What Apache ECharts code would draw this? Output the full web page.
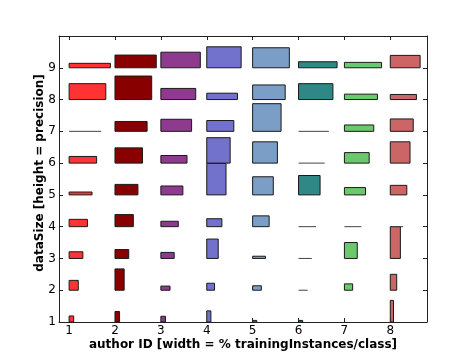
<!DOCTYPE html>
<html>
<head>
<meta charset="utf-8">
<script src="https://cdn.jsdelivr.net/npm/echarts@6/dist/echarts.min.js"></script>
<style>html,body{margin:0;padding:0;background:#fff}#c{width:474px;height:358px}</style>
</head>
<body>
<div id="c"></div>
<script>
// author IDs (x) and data sizes (y)
var authors = [1, 2, 3, 4, 5, 6, 7, 8];
var dataSizes = [1, 2, 3, 4, 5, 6, 7, 8, 9];
var xTickLabels = ['1', '2', '3', '4', '5', '6', '7', '8'];
var yTickLabels = ['1', '2', '3', '4', '5', '6', '7', '8', '9'];
var authorColors = ['#ff3333', '#880000', '#8e3a8e', '#7272cc', '#7b9ec6', '#2f8886', '#6cc86c', '#cc6666'];

// width = % training instances / class, per author, for dataSize 1..9
var width1 = [0.10, 0.20, 0.30, 0.40, 0.50, 0.60, 0.70, 0.80, 0.90];
var width2 = [0.10, 0.20, 0.30, 0.40, 0.50, 0.60, 0.70, 0.80, 0.90];
var width3 = [0.10, 0.20, 0.29, 0.38, 0.48, 0.57, 0.67, 0.76, 0.86];
var width4 = [0.09, 0.17, 0.25, 0.33, 0.42, 0.51, 0.59, 0.67, 0.75];
var width5 = [0.09, 0.19, 0.28, 0.36, 0.45, 0.54, 0.62, 0.71, 0.80];
var width6 = [0.09, 0.20, 0.29, 0.38, 0.47, 0.57, 0.66, 0.75, 0.84];
var width7 = [0.09, 0.18, 0.28, 0.37, 0.46, 0.54, 0.64, 0.72, 0.81];
var width8 = [0.07, 0.14, 0.22, 0.28, 0.36, 0.43, 0.50, 0.57, 0.65];

// height = precision, per author, for dataSize 1..9
var prec1 = [0.19, 0.31, 0.21, 0.23, 0.09, 0.21, 0.00, 0.50, 0.14];
var prec2 = [0.33, 0.67, 0.28, 0.38, 0.33, 0.48, 0.31, 0.74, 0.40];
var prec3 = [0.18, 0.13, 0.19, 0.17, 0.28, 0.24, 0.38, 0.35, 0.49];
var prec4 = [0.35, 0.22, 0.61, 0.25, 0.99, 0.80, 0.34, 0.20, 0.66];
var prec5 = [0.05, 0.14, 0.07, 0.34, 0.57, 0.67, 0.87, 0.46, 0.63];
var prec6 = [0.05, 0.00, 0.00, 0.00, 0.61, 0.00, 0.00, 0.50, 0.19];
var prec7 = [0.00, 0.20, 0.50, 0.00, 0.23, 0.33, 0.20, 0.17, 0.17];
var prec8 = [0.68, 0.50, 1.00, 0.00, 0.30, 0.67, 0.39, 0.16, 0.39];

var widths = [width1, width2, width3, width4, width5, width6, width7, width8];
var precs = [prec1, prec2, prec3, prec4, prec5, prec6, prec7, prec8];

var data = [];
authors.forEach(function (a, i) {
  dataSizes.forEach(function (d, j) {
    if (i === 6 && j === 0) return; // not visible in reference
    data.push([a, d, widths[i][j], precs[i][j], i]);
  });
});

var chart = echarts.init(document.getElementById('c'), null, {renderer: 'canvas'});
var font = 'DejaVu Sans';
var axisLineStyle = {color: '#222', width: 1};
var tickStyle = {show: true, inside: true, length: 4, lineStyle: {color: '#222'}};

chart.setOption({
  animation: false,
  backgroundColor: '#fff',
  grid: {left: 59, right: 47, top: 36, bottom: 36, containLabel: false},
  xAxis: [{
    type: 'value', min: 0.78, max: 8.8, position: 'bottom',
    name: 'author ID [width = % trainingInstances/class]',
    nameLocation: 'middle', nameGap: 17, nameMoveOverlap: false,
    nameTextStyle: {fontFamily: font, fontWeight: 'bold', fontSize: 12, color: '#000'},
    axisLine: {show: true, lineStyle: axisLineStyle},
    axisTick: Object.assign({customValues: authors}, tickStyle),
    axisLabel: {customValues: authors, formatter: function (v) { return xTickLabels[Math.round(v) - 1]; },
      fontFamily: font, fontSize: 12, color: '#000', margin: 3},
    splitLine: {show: false}
  }, {
    type: 'value', min: 0.78, max: 8.8, position: 'top',
    axisLine: {show: true, lineStyle: axisLineStyle},
    axisTick: Object.assign({customValues: authors}, tickStyle),
    axisLabel: {show: false}, splitLine: {show: false}
  }],
  yAxis: [{
    type: 'value', min: 1, max: 10, position: 'left',
    name: 'dataSize [height = precision]',
    nameLocation: 'middle', nameGap: 13, nameRotate: 90, nameMoveOverlap: false,
    nameTextStyle: {fontFamily: font, fontWeight: 'bold', fontSize: 12, color: '#000', padding: [0, 0, 0, 12]},
    axisLine: {show: true, lineStyle: axisLineStyle},
    axisTick: Object.assign({customValues: dataSizes}, tickStyle),
    axisLabel: {customValues: dataSizes, formatter: function (v) { return yTickLabels[Math.round(v) - 1]; },
      fontFamily: font, fontSize: 12, color: '#000', margin: 3},
    splitLine: {show: false}
  }, {
    type: 'value', min: 1, max: 10, position: 'right',
    axisLine: {show: true, lineStyle: axisLineStyle},
    axisTick: Object.assign({customValues: dataSizes}, tickStyle),
    axisLabel: {show: false}, splitLine: {show: false}
  }],
  series: [{
    type: 'custom',
    xAxisIndex: 0, yAxisIndex: 0,
    data: data,
    renderItem: function (params, api) {
      var x = api.value(0), y = api.value(1), w = api.value(2), h = api.value(3), k = api.value(4);
      var p0 = api.coord([x, y]);
      var p1 = api.coord([x + w, y + h]);
      if (h === 0) {
        return {
          type: 'line',
          shape: {x1: p0[0], y1: p0[1], x2: p1[0], y2: p0[1]},
          style: {stroke: '#444', lineWidth: 1}
        };
      }
      return {
        type: 'rect',
        shape: {x: p0[0], y: p1[1], width: p1[0] - p0[0], height: p0[1] - p1[1]},
        style: {fill: authorColors[k], stroke: '#1a1a1a', lineWidth: 1}
      };
    }
  }]
});
</script>
</body>
</html>
